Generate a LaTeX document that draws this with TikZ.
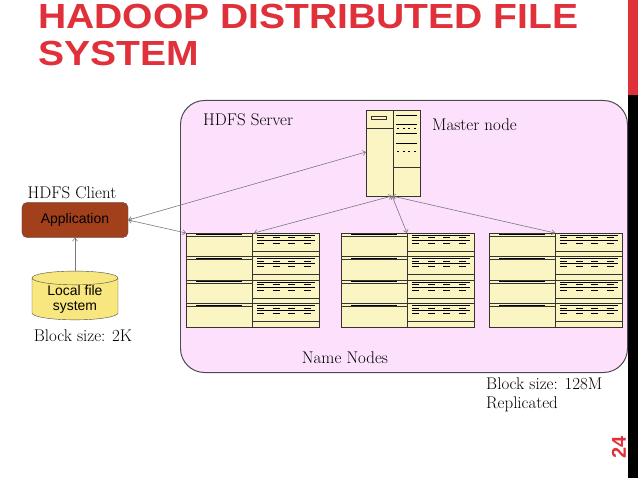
\documentclass[tikz,border=0pt]{standalone}
\usepackage{fontspec}
\usetikzlibrary{shapes.geometric,arrows.meta}
\newfontfamily\sans{Liberation Sans}
\definecolor{ttl}{HTML}{E0303A}
\definecolor{pinkbg}{HTML}{FCE0FC}
\definecolor{cream}{HTML}{FBF5C4}
\definecolor{brown}{HTML}{A3401C}
\definecolor{cyl}{HTML}{F8E77E}
\definecolor{ln}{HTML}{7A7A7A}
\tikzset{
  lbl/.style={font=\fontsize{17}{19}\selectfont, inner sep=0pt},
  conn/.style={draw=ln, line width=0.6pt, {Straight Barb[length=3pt,width=5pt]}-{Straight Barb[length=3pt,width=5pt]}},
  one/.style={draw=ln, line width=0.6pt, -{Straight Barb[length=3pt,width=5pt]}},
  box/.style={draw=black!80, fill=cream, line width=0.5pt},
}
\newcommand{\rackgroup}[3]{% x0, y0, name
  \node[minimum width=133bp, minimum height=94bp, inner sep=0pt, anchor=north west] (#3) at (#1,#2) {};
  \foreach \r in {0,...,3}{
    \pgfmathsetmacro{\yy}{#2+\r*23.5}
    \draw[box] (#1,\yy) rectangle ++(66.5,23.5);
    \draw[box] (#1+66.5,\yy) rectangle ++(66.5,23.5);
    \draw[black!80,line width=0.4pt] (#1,\yy+3) -- ++(66.5,0);
    \draw[black!80,line width=0.4pt] (#1+66.5,\yy+18) -- ++(66.5,0);
    \draw[black,line width=1pt] (#1+10,\yy+1.8) -- ++(46,0);
    \draw[black,line width=0.9pt] (#1+71,\yy+2) -- ++(58,0);
    \draw[black,line width=0.7pt] (#1+71,\yy+7) -- ++(58,0);
    \foreach \k in {0,...,3}{
      \draw[black,line width=0.9pt] (#1+71+\k*15.5,\yy+4.5) -- ++(7,0);
      \draw[black,line width=0.9pt] (#1+71+\k*15.5,\yy+10) -- ++(7,0);
    }
  }
}
\begin{document}
\begin{tikzpicture}[x=1bp,y=-1bp]
\useasboundingbox (0,0) rectangle (638,478);
\fill[white] (0,0) rectangle (638,478);
\fill[ttl] (628,0) rectangle (638,95);
\fill[black] (628,95) rectangle (638,478);
\node[anchor=south, rotate=90, text=ttl, font=\sans\bfseries\fontsize{20}{22}\selectfont, inner sep=0pt] (pg) at (626,447) {24};
\node[anchor=north west, align=left, text=ttl, xscale=1.12, font=\sans\bfseries\fontsize{35}{37}\selectfont, inner sep=0pt] (title) at (38,4) {HADOOP DISTRIBUTED FILE\\SYSTEM};
% server box
\node[draw=black!70, fill=pinkbg, line width=1pt, rounded corners=24bp, minimum width=447bp, minimum height=272bp, anchor=north west] (server) at (180,100) {};
\node[lbl, anchor=west] (hs) at (203,120) {HDFS Server};
% master
\node[box, minimum width=27bp, minimum height=86bp, inner sep=0pt, anchor=north west] (ml) at (366,110) {};
\node[box, minimum width=27bp, minimum height=86bp, inner sep=0pt, anchor=north west] (mr) at (393,110) {};
\node[draw=none, minimum width=54bp, minimum height=86bp, inner sep=0pt, anchor=north west] (master) at (366,110) {};
\draw[black!80,line width=0.4pt] (366,128) -- (393,128);
\draw[black!80,line width=0.4pt] (393,167) -- (420,167);
\draw[black!80,line width=0.5pt] (371,116) rectangle (386,119);
\foreach \yy in {115,124,133,143}{ \draw[black,line width=0.8pt] (396,\yy) -- (417,\yy); }
\foreach \yy in {128,151}{ \foreach \k in {0,...,3}{ \draw[black,line width=0.8pt] (397+\k*5.5,\yy) -- ++(2,0);} }
\node[lbl, anchor=west] (mn) at (432,125) {Master node};
% name node groups
\rackgroup{186}{233}{g1}
\rackgroup{341}{233}{g2}
\rackgroup{489}{233}{g3}
\node[lbl] (nn) at (345,358) {Name Nodes};
\node[lbl, anchor=north west, align=left] (bs2) at (486,378) {Block size: 128M\\Replicated};
% client
\node[draw=black!70, fill=brown, rounded corners=5bp, minimum width=106bp, minimum height=35bp, inner sep=0pt, font=\sans\fontsize{14}{16}\selectfont] (app) at (75,220) {Application};
\node[lbl] (hc) at (72,193) {HDFS Client};
\node[cylinder, shape border rotate=90, aspect=0.25, draw=black!70, fill=cyl, minimum width=86bp, minimum height=48bp, inner sep=0pt, align=center, font=\sans\fontsize{14}{15}\selectfont] (lfs) at (75,299) {Local file\\system};
\node[lbl] (bs1) at (83,336) {Block size: 2K};
% connectors
\draw[one] (lfs.top) -- (app.south);
\draw[conn] (app.east) -- (master.west |- 0,152);
\draw[conn] (app.east) -- (g1.north west);
\coordinate (mb) at (392,196);
\draw[conn] (mb) -- (254,233);
\draw[conn] (mb) -- (407,233);
\draw[conn] (mb) -- (555,233);
\end{tikzpicture}
\end{document}
